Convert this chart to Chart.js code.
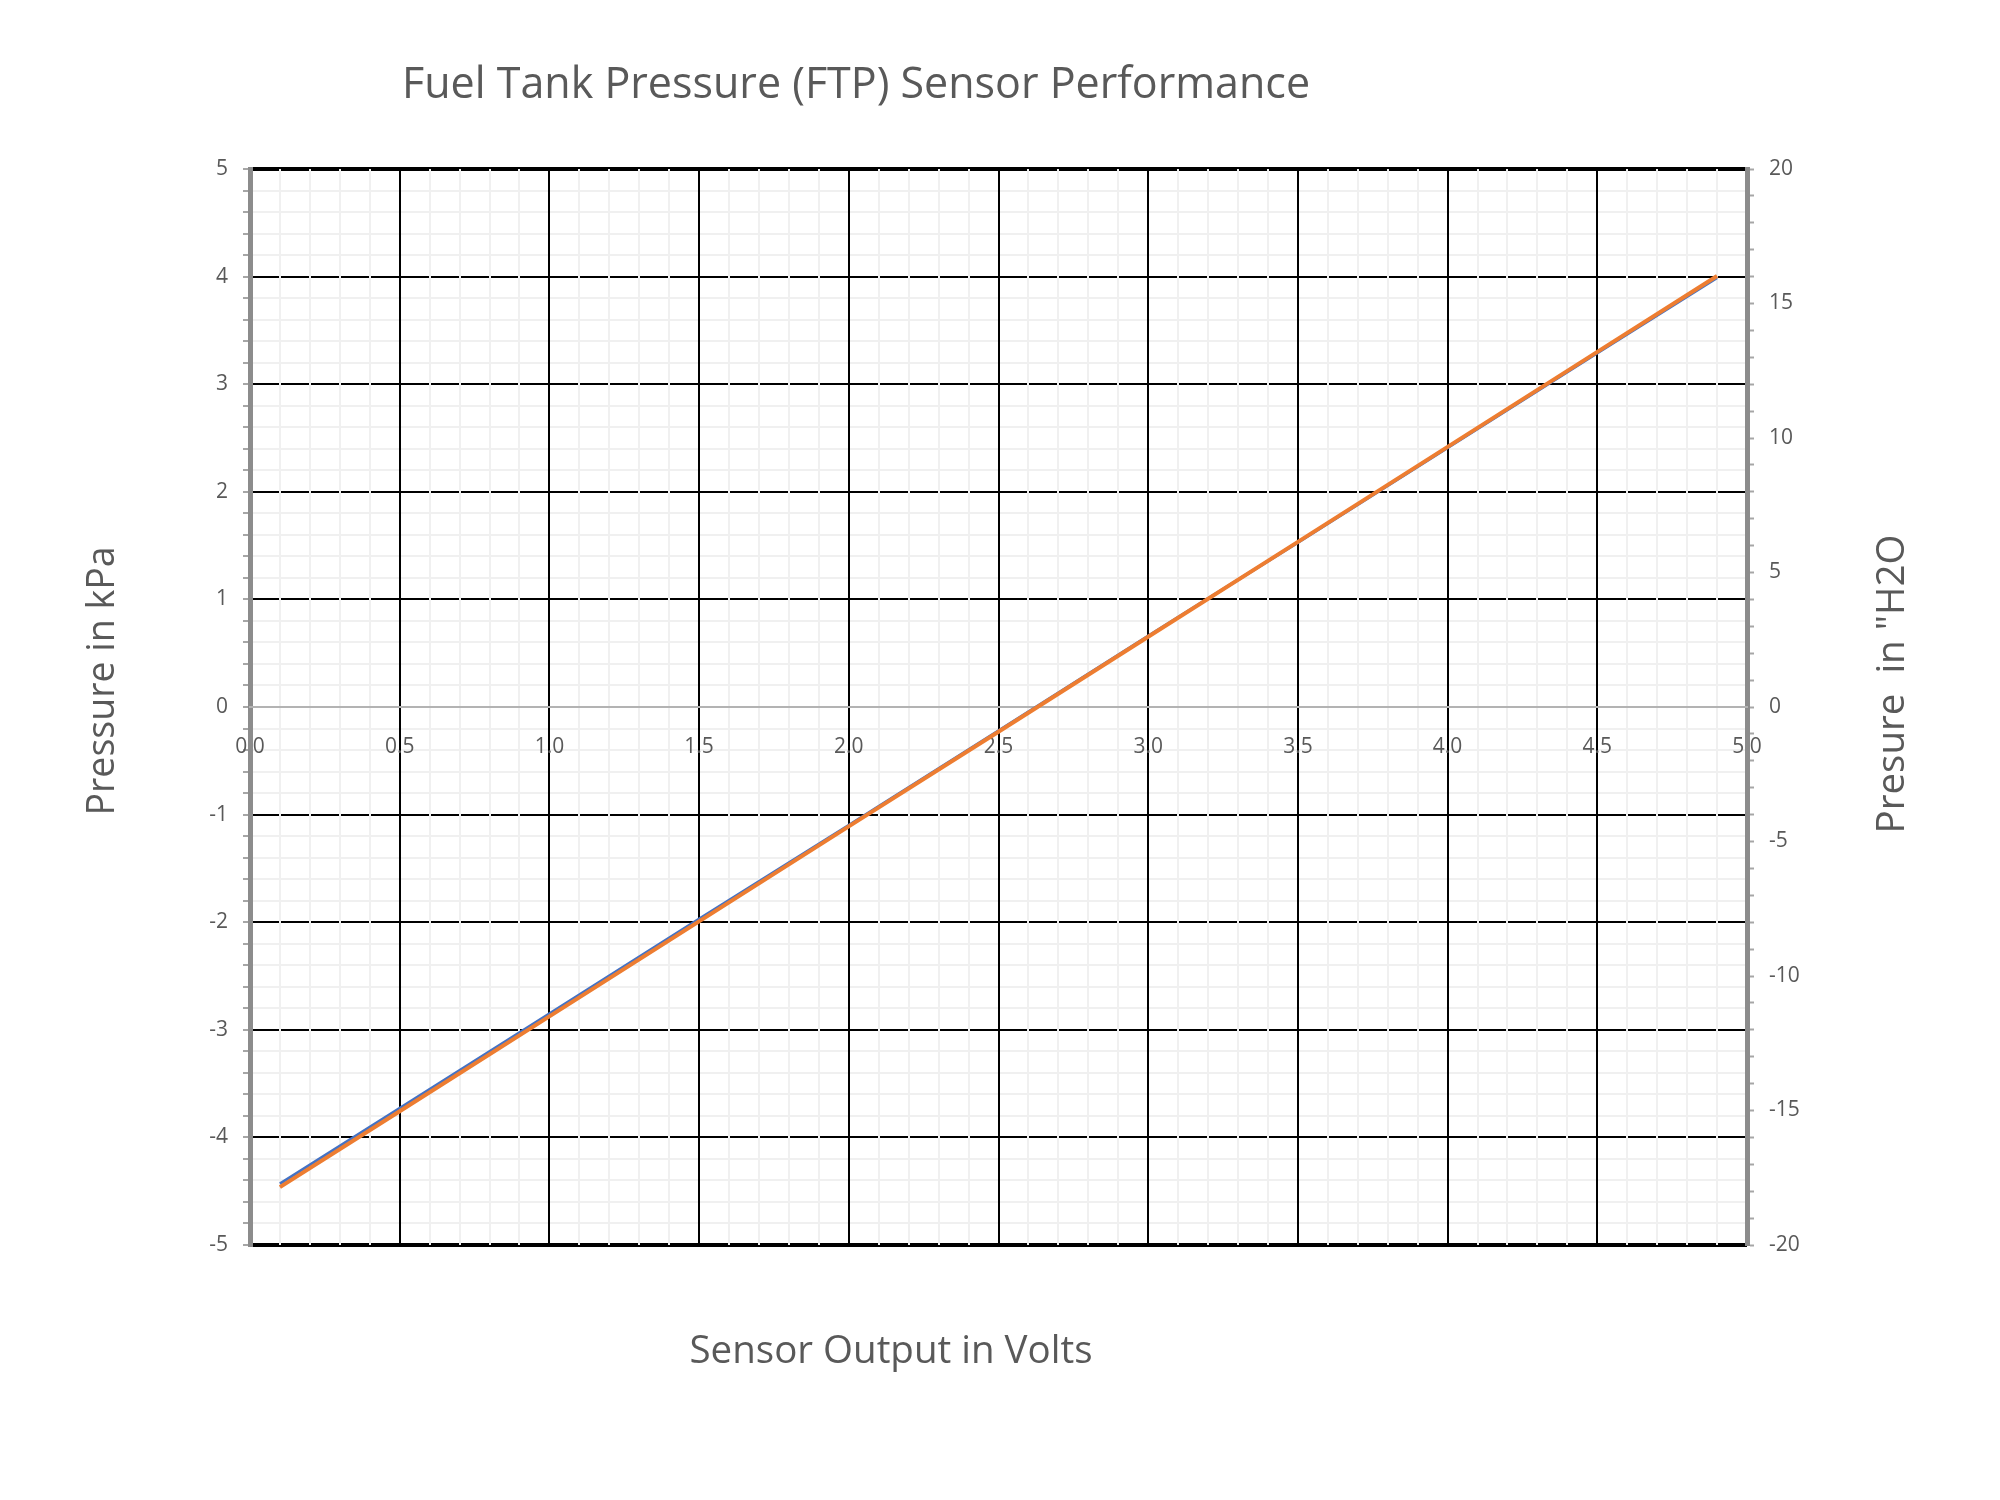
<!DOCTYPE html>
<html>
<head>
<meta charset="utf-8">
<script src="https://cdn.jsdelivr.net/npm/chart.js@4"></script>
<style>
  html, body { margin: 0; padding: 0; background: #ffffff; }
  #wrap { width: 2000px; height: 1500px; }
</style>
</head>
<body>
<div id="wrap"><canvas id="c" width="2000" height="1500"></canvas></div>
<script>
// ---- data ----
const chartTitle = 'Fuel Tank Pressure (FTP) Sensor Performance';
const xTitle = 'Sensor Output in Volts';
const yLeftTitle = 'Pressure in kPa';
const yRightTitle = 'Presure  in "H2O';
const volts = [0.1, 0.5, 1.0, 1.5, 2.0, 2.5, 3.0, 3.5, 4.0, 4.5, 4.9];
const kPaValues = [-4.43, -3.73, -2.85, -1.97, -1.10, -0.22, 0.66, 1.53, 2.41, 3.29, 3.99];
const inH2OValues = [-17.85, -15.03, -11.50, -7.97, -4.44, -0.92, 2.61, 6.14, 9.67, 13.20, 16.02];
const xRange = [0, 5];
const yLeftRange = [-5, 5];
const yRightRange = [-20, 20];

const textColor = '#595959';
const fontFamily = '"Open Sans", "Liberation Sans", sans-serif';

function near(v, step) {
  const r = v / step;
  return Math.abs(r - Math.round(r)) < 1e-6;
}

const titlePlugin = {
  id: 'figTitles',
  afterDraw(chart) {
    const ctx = chart.ctx;
    ctx.save();
    ctx.fillStyle = textColor;
    ctx.textAlign = 'center';
    ctx.textBaseline = 'middle';
    ctx.font = '43px ' + fontFamily;
    ctx.fillText(chartTitle, 856, 86);
    ctx.font = '38.5px ' + fontFamily;
    ctx.fillText(xTitle, 891, 1352);
    ctx.save();
    ctx.translate(103, 681);
    ctx.rotate(-Math.PI / 2);
    ctx.font = '37.5px ' + fontFamily;
    ctx.fillText(yLeftTitle, 0, 0);
    ctx.restore();
    ctx.save();
    ctx.translate(1893, 684);
    ctx.rotate(-Math.PI / 2);
    ctx.font = '38.5px ' + fontFamily;
    ctx.fillText(yRightTitle, 0, 0);
    ctx.restore();
    ctx.restore();
  }
};

new Chart(document.getElementById('c'), {
  type: 'scatter',
  data: {
    datasets: [
      {
        label: 'inH2O',
        data: volts.map((v, i) => ({ x: v, y: inH2OValues[i] })),
        showLine: true,
        borderColor: '#ED7D31',
        backgroundColor: '#ED7D31',
        borderWidth: 4,
        pointRadius: 0,
        yAxisID: 'y2'
      },
      {
        label: 'kPa',
        data: volts.map((v, i) => ({ x: v, y: kPaValues[i] })),
        showLine: true,
        borderColor: '#4472C4',
        backgroundColor: '#4472C4',
        borderWidth: 3,
        pointRadius: 0,
        yAxisID: 'y'
      }
    ]
  },
  options: {
    responsive: false,
    devicePixelRatio: 1,
    animation: false,
    layout: { padding: { top: 169, bottom: 255, left: 0, right: 0 } },
    plugins: {
      legend: { display: false },
      title: { display: false },
      tooltip: { enabled: false }
    },
    scales: {
      y: {
        type: 'linear',
        position: 'left',
        min: yLeftRange[0],
        max: yLeftRange[1],
        afterFit(s) { s.width = 250; },
        ticks: {
          stepSize: 0.2,
          autoSkip: false,
          padding: 15,
          color: textColor,
          font: { family: fontFamily, size: 21 },
          callback(v) { return near(v, 1) ? String(Math.round(v)) : ''; }
        },
        grid: {
          drawTicks: true,
          tickLength: 7,
          tickColor: '#a6a6a6',
          tickWidth: 2,
          color(ctx) {
            const v = ctx.tick ? ctx.tick.value : 0;
            if (Math.abs(v) < 1e-9) return 'rgba(0,0,0,0)';
            return near(v, 1) ? '#000000' : '#f0f0f0';
          },
          lineWidth(ctx) {
            const v = ctx.tick ? ctx.tick.value : 0;
            if (Math.abs(Math.abs(v) - 5) < 1e-9) return 4;
            return 2;
          }
        },
        border: { display: true, color: '#8c8c8c', width: 5 }
      },
      y2: {
        type: 'linear',
        position: 'right',
        min: yRightRange[0],
        max: yRightRange[1],
        afterFit(s) { s.width = 253; },
        ticks: {
          stepSize: 1,
          autoSkip: false,
          padding: 15,
          color: textColor,
          font: { family: fontFamily, size: 21 },
          callback(v) { return near(v, 5) ? String(Math.round(v)) : ''; }
        },
        grid: {
          drawOnChartArea: false,
          drawTicks: true,
          tickLength: 7,
          tickColor: '#a6a6a6',
          tickWidth: 2
        },
        border: { display: true, color: '#8c8c8c', width: 5 }
      },
      x: {
        type: 'linear',
        position: { y: 0 },
        min: xRange[0],
        max: xRange[1],
        ticks: {
          stepSize: 0.1,
          autoSkip: false,
          maxRotation: 0,
          minRotation: 0,
          padding: 27,
          z: -1,
          color: textColor,
          font: { family: fontFamily, size: 21 },
          callback(v) { return near(v, 0.5) ? v.toFixed(1) : ''; }
        },
        grid: {
          drawTicks: false,
          tickLength: 0,
          color(ctx) {
            const v = ctx.tick ? ctx.tick.value : 0;
            return near(v, 0.5) ? '#000000' : '#f0f0f0';
          },
          lineWidth: 2
        },
        border: { display: true, color: '#b3b3b3', width: 2 }
      }
    }
  },
  plugins: [titlePlugin]
});
</script>
</body>
</html>
